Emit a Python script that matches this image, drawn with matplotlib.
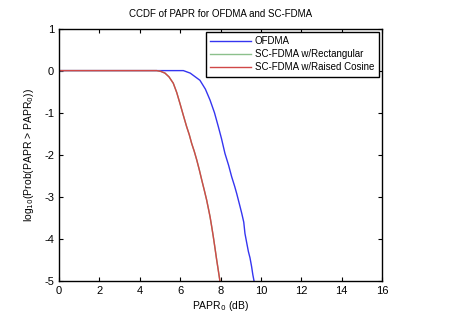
import matplotlib
matplotlib.use("Agg")
import matplotlib.pyplot as plt

plt.rcParams['font.family'] = ['Liberation Sans', 'DejaVu Sans']
plt.rcParams['axes.unicode_minus'] = False

# CCDF curves, PAPR0 in dB vs log10 of the exceedance probability
ofdma_x = [0, 6.0, 6.16, 6.5, 6.98, 7.25, 7.48, 7.7, 7.89, 8.05, 8.22, 8.4, 8.55,
           8.7, 8.80, 8.95, 9.05, 9.15, 9.21, 9.3, 9.38, 9.46, 9.54, 9.6, 9.66]
ofdma_y = [0, 0, 0, -0.06, -0.23, -0.44, -0.70, -1.0, -1.33, -1.62, -1.97, -2.25,
           -2.52, -2.75, -2.92, -3.2, -3.39, -3.6, -3.87, -4.1, -4.30, -4.45,
           -4.66, -4.85, -5.0]

rect_x = [0, 4.84, 5.05, 5.25, 5.45, 5.66, 5.83, 5.99, 6.15, 6.32, 6.45, 6.57, 6.7,
          6.82, 6.95, 7.07, 7.2, 7.31, 7.4, 7.48, 7.56, 7.64, 7.72, 7.81, 7.9, 7.97]
rect_y = [0, 0, -0.02, -0.06, -0.15, -0.30, -0.52, -0.78, -1.05, -1.33, -1.52,
          -1.73, -1.92, -2.12, -2.36, -2.60, -2.85, -3.07, -3.28, -3.47, -3.7,
          -3.94, -4.2, -4.50, -4.78, -5.0]

# raised cosine pulse shaping gives practically the same curve here
rc_x = rect_x
rc_y = rect_y

fig = plt.figure(figsize=(4.74, 3.26), dpi=100)
ax = fig.add_axes([0.1245, 0.138, 0.6815, 0.7745])

ax.plot(ofdma_x, ofdma_y, color='#3535f0', lw=1.0, label='OFDMA')
ax.plot(rect_x, rect_y, color='#8cc08c', lw=1.0, label='SC-FDMA w/Rectangular')
ax.plot(rc_x, rc_y, color='#d04848', lw=1.0, label='SC-FDMA w/Raised Cosine')

ax.set_xlim(0, 16)
ax.set_ylim(-5, 1)
ax.set_xticks(range(0, 17, 2))
ax.set_yticks(range(-5, 2))
ax.tick_params(direction='in', top=True, right=True, labelsize=8, length=3, width=0.8)
for s in ax.spines.values():
    s.set_linewidth(1.0)

ax.set_title('CCDF of PAPR for OFDMA and SC-FDMA', fontsize=7, pad=8)
ax.set_xlabel('PAPR$_0$ (dB)', fontsize=7.5, labelpad=2)
ax.set_ylabel('log$_{10}$(Prob(PAPR > PAPR$_0$))', fontsize=7.5, labelpad=6)

leg = ax.legend(loc='upper right', fontsize=7, fancybox=False, framealpha=1,
                edgecolor='black', borderaxespad=0.35, handlelength=4.2,
                handletextpad=0.4, borderpad=0.45, labelspacing=0.3)
leg.get_frame().set_linewidth(1.0)

fig.savefig('out.png', dpi=100)
